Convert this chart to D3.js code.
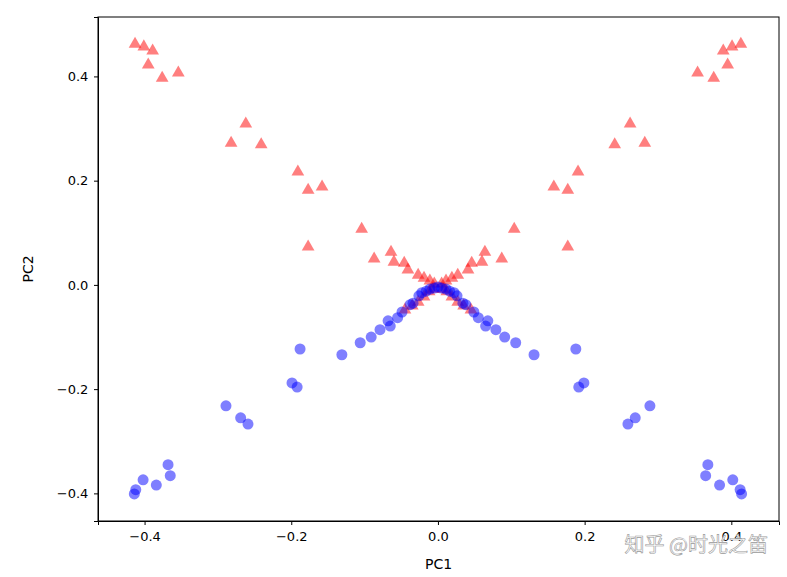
<!DOCTYPE html>
<html><head><meta charset="utf-8">
<script src="https://cdn.jsdelivr.net/npm/d3@7"></script>
<style>body{margin:0;background:#fff}text{font-family:"DejaVu Sans",sans-serif}</style>
</head><body><div id="chart"></div>
<script>
// red triangles (class A): [PC1, PC2]
const redPoints = [
  [-0.413,0.462],[-0.401,0.457],[-0.389,0.449],[-0.395,0.422],[-0.376,0.397],[-0.354,0.407],
  [-0.282,0.272],[-0.262,0.309],[-0.241,0.269],[-0.191,0.217],[-0.177,0.182],[-0.158,0.188],
  [-0.177,0.073],[-0.104,0.107],[-0.087,0.050],[-0.064,0.063],[-0.060,0.044],[-0.046,0.042],
  [-0.041,0.029],[-0.027,0.019],[-0.019,0.013],[-0.011,0.008],[-0.005,0.002],
  [-0.045,-0.048],[-0.035,-0.040],[-0.027,-0.033],[-0.019,-0.023],[-0.012,-0.013],[-0.007,-0.008],
  [0.413,0.462],[0.401,0.457],[0.389,0.449],[0.395,0.422],[0.376,0.397],[0.354,0.407],
  [0.282,0.272],[0.262,0.309],[0.241,0.269],[0.191,0.217],[0.177,0.182],[0.158,0.188],
  [0.177,0.073],[0.104,0.107],[0.087,0.050],[0.064,0.063],[0.060,0.044],[0.046,0.042],
  [0.041,0.029],[0.027,0.019],[0.019,0.013],[0.011,0.008],[0.005,0.002],
  [0.045,-0.048],[0.035,-0.040],[0.027,-0.033],[0.019,-0.023],[0.012,-0.013],[0.007,-0.008]
];
// blue circles (class B)
const bluePoints = [
  [-0.414,-0.401],[-0.412,-0.393],[-0.402,-0.374],[-0.384,-0.384],[-0.368,-0.345],[-0.365,-0.366],
  [-0.289,-0.232],[-0.269,-0.255],[-0.259,-0.267],[-0.199,-0.188],[-0.192,-0.196],[-0.188,-0.123],
  [-0.131,-0.134],[-0.106,-0.111],[-0.091,-0.100],[-0.079,-0.086],[-0.068,-0.069],[-0.065,-0.079],
  [-0.055,-0.063],[-0.049,-0.052],[-0.038,-0.038],[-0.034,-0.035],[-0.026,-0.021],[-0.022,-0.015],
  [-0.016,-0.012],[-0.011,-0.008],[-0.005,-0.006],[0.000,-0.004],
  [0.414,-0.401],[0.412,-0.393],[0.402,-0.374],[0.384,-0.384],[0.368,-0.345],[0.365,-0.366],
  [0.289,-0.232],[0.269,-0.255],[0.259,-0.267],[0.199,-0.188],[0.192,-0.196],[0.188,-0.123],
  [0.131,-0.134],[0.106,-0.111],[0.091,-0.100],[0.079,-0.086],[0.068,-0.069],[0.065,-0.079],
  [0.055,-0.063],[0.049,-0.052],[0.038,-0.038],[0.034,-0.035],[0.026,-0.021],[0.022,-0.015],
  [0.016,-0.012],[0.011,-0.008],[0.005,-0.006]
];
const xTicks = [-0.4,-0.2,0.0,0.2,0.4];
const yTicks = [-0.4,-0.2,0.0,0.2,0.4];

const width = 787, height = 577;
const margin = {left: 98, right: 8, top: 17, bottom: 56};
const svg = d3.select("#chart").append("svg").attr("width", width).attr("height", height);

const x = d3.scaleLinear().domain([-0.4635, 0.465]).range([margin.left, width - margin.right]);
const y = d3.scaleLinear().domain([-0.453, 0.514]).range([height - margin.bottom, margin.top]);

svg.append("g").attr("transform", `translate(0,${height - margin.bottom})`)
  .call(d3.axisBottom(x).tickValues(xTicks).tickFormat(d3.format(".1f")).tickSizeOuter(0).tickSize(4))
  .call(g => g.selectAll("text").attr("font-size", 13).attr("fill", "#000").attr("dy", "1em").text(d => d3.format(".1f")(d).replace("-", "\u2212")));
svg.append("g").attr("transform", `translate(${margin.left},0)`)
  .call(d3.axisLeft(y).tickValues(yTicks).tickSizeOuter(0).tickSize(4))
  .call(g => g.selectAll("text").attr("font-size", 13).attr("fill", "#000").attr("dx", "-0.2em").text(d => d3.format(".1f")(d).replace("-", "\u2212")));

svg.append("rect").attr("x", margin.left).attr("y", margin.top)
  .attr("width", width - margin.left - margin.right).attr("height", height - margin.top - margin.bottom)
  .attr("fill", "none").attr("stroke", "#000");

const tri = d3.symbol().type(d3.symbolTriangle).size(70);
svg.append("g").selectAll("path").data(redPoints).join("path")
  .attr("d", tri).attr("transform", d => `translate(${x(d[0])},${y(d[1])})`)
  .attr("fill", "red").attr("fill-opacity", 0.5);

svg.append("g").selectAll("circle").data(bluePoints).join("circle")
  .attr("cx", d => x(d[0])).attr("cy", d => y(d[1])).attr("r", 5.5)
  .attr("fill", "blue").attr("fill-opacity", 0.5);

svg.append("text").attr("x", (margin.left + width - margin.right) / 2).attr("y", height - 8)
  .attr("text-anchor", "middle").attr("font-size", 14).text("PC1");
svg.append("text").attr("transform", `translate(33,${(margin.top + height - margin.bottom) / 2}) rotate(-90)`)
  .attr("text-anchor", "middle").attr("font-size", 14).text("PC2");

svg.append("text").attr("x", 768).attr("y", 552).attr("text-anchor", "end")
  .attr("font-size", 20).attr("fill", "#fff").attr("stroke", "#999").attr("stroke-width", 0.6)
  .style("font-family", "'Noto Sans CJK SC'").text("知乎 @时光之笛");
</script></body></html>
